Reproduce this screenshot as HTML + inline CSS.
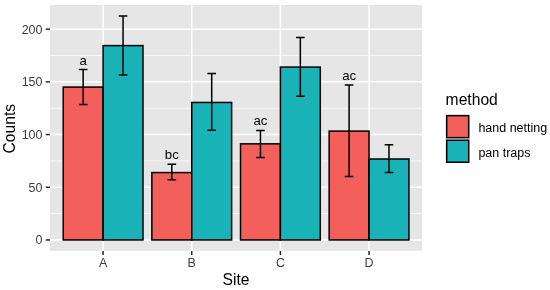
<!DOCTYPE html>
<html><head><meta charset="utf-8"><title>Counts by Site</title>
<style>
html,body{margin:0;padding:0;background:#fff;}
body{width:550px;height:290px;overflow:hidden;}
svg{display:block;font-family:"Liberation Sans",Arial,Helvetica,sans-serif;}
</style></head><body>
<svg width="550" height="290" viewBox="0 0 550 290">
<rect width="550" height="290" fill="#fff"/>
<rect x="49.9" y="5.0" width="372.25" height="245.90" fill="#E6E6E6"/>
<line x1="49.9" x2="422.15" y1="213.60" y2="213.60" stroke="#fff" stroke-width="0.74"/>
<line x1="49.9" x2="422.15" y1="160.91" y2="160.91" stroke="#fff" stroke-width="0.74"/>
<line x1="49.9" x2="422.15" y1="108.21" y2="108.21" stroke="#fff" stroke-width="0.74"/>
<line x1="49.9" x2="422.15" y1="55.52" y2="55.52" stroke="#fff" stroke-width="0.74"/>
<line x1="49.9" x2="422.15" y1="239.95" y2="239.95" stroke="#fff" stroke-width="1.5"/>
<line x1="49.9" x2="422.15" y1="187.25" y2="187.25" stroke="#fff" stroke-width="1.5"/>
<line x1="49.9" x2="422.15" y1="134.56" y2="134.56" stroke="#fff" stroke-width="1.5"/>
<line x1="49.9" x2="422.15" y1="81.86" y2="81.86" stroke="#fff" stroke-width="1.5"/>
<line x1="49.9" x2="422.15" y1="29.17" y2="29.17" stroke="#fff" stroke-width="1.5"/>
<line x1="103.10" x2="103.10" y1="5.0" y2="250.9" stroke="#fff" stroke-width="1.5"/>
<line x1="191.75" x2="191.75" y1="5.0" y2="250.9" stroke="#fff" stroke-width="1.5"/>
<line x1="280.40" x2="280.40" y1="5.0" y2="250.9" stroke="#fff" stroke-width="1.5"/>
<line x1="369.05" x2="369.05" y1="5.0" y2="250.9" stroke="#fff" stroke-width="1.5"/>
<rect x="63.21" y="87.08" width="39.89" height="152.87" fill="#F35F5B" stroke="#000" stroke-width="1.5" stroke-linejoin="miter"/>
<rect x="103.10" y="45.60" width="39.89" height="194.35" fill="#19B3B7" stroke="#000" stroke-width="1.5" stroke-linejoin="miter"/>
<rect x="151.86" y="172.58" width="39.89" height="67.37" fill="#F35F5B" stroke="#000" stroke-width="1.5" stroke-linejoin="miter"/>
<rect x="191.75" y="102.46" width="39.89" height="137.49" fill="#19B3B7" stroke="#000" stroke-width="1.5" stroke-linejoin="miter"/>
<rect x="240.51" y="143.84" width="39.89" height="96.11" fill="#F35F5B" stroke="#000" stroke-width="1.5" stroke-linejoin="miter"/>
<rect x="280.40" y="67.08" width="39.89" height="172.87" fill="#19B3B7" stroke="#000" stroke-width="1.5" stroke-linejoin="miter"/>
<rect x="329.16" y="131.10" width="39.89" height="108.85" fill="#F35F5B" stroke="#000" stroke-width="1.5" stroke-linejoin="miter"/>
<rect x="369.05" y="159.01" width="39.89" height="80.94" fill="#19B3B7" stroke="#000" stroke-width="1.5" stroke-linejoin="miter"/>
<path d="M78.85 69.61H87.45M83.15 69.61V104.46M78.85 104.46H87.45" fill="none" stroke="#000" stroke-width="1.5"/>
<text x="83.15" y="64.61" font-size="13.2" text-anchor="middle" fill="#000">a</text>
<path d="M118.75 16.11H127.35M123.05 16.11V75.08M118.75 75.08H127.35" fill="none" stroke="#000" stroke-width="1.5"/>
<path d="M167.50 164.37H176.10M171.80 164.37V179.75M167.50 179.75H176.10" fill="none" stroke="#000" stroke-width="1.5"/>
<text x="171.80" y="159.37" font-size="13.2" text-anchor="middle" fill="#000">bc</text>
<path d="M207.40 73.40H216.00M211.70 73.40V130.26M207.40 130.26H216.00" fill="none" stroke="#000" stroke-width="1.5"/>
<path d="M256.15 130.47H264.75M260.45 130.47V157.54M256.15 157.54H264.75" fill="none" stroke="#000" stroke-width="1.5"/>
<text x="260.45" y="125.47" font-size="13.2" text-anchor="middle" fill="#000">ac</text>
<path d="M296.05 37.49H304.65M300.35 37.49V96.15M296.05 96.15H304.65" fill="none" stroke="#000" stroke-width="1.5"/>
<path d="M344.80 85.09H353.40M349.10 85.09V176.59M344.80 176.59H353.40" fill="none" stroke="#000" stroke-width="1.5"/>
<text x="349.10" y="80.09" font-size="13.2" text-anchor="middle" fill="#000">ac</text>
<path d="M384.70 144.79H393.30M389.00 144.79V172.58M384.70 172.58H393.30" fill="none" stroke="#000" stroke-width="1.5"/>
<line x1="45.80" x2="49.9" y1="239.95" y2="239.95" stroke="#262626" stroke-width="1.5"/>
<text x="42.50" y="244.30" font-size="12.5" text-anchor="end" fill="#3D3D3D">0</text>
<line x1="45.80" x2="49.9" y1="187.25" y2="187.25" stroke="#262626" stroke-width="1.5"/>
<text x="42.50" y="191.60" font-size="12.5" text-anchor="end" fill="#3D3D3D">50</text>
<line x1="45.80" x2="49.9" y1="134.56" y2="134.56" stroke="#262626" stroke-width="1.5"/>
<text x="42.50" y="138.91" font-size="12.5" text-anchor="end" fill="#3D3D3D">100</text>
<line x1="45.80" x2="49.9" y1="81.86" y2="81.86" stroke="#262626" stroke-width="1.5"/>
<text x="42.50" y="86.21" font-size="12.5" text-anchor="end" fill="#3D3D3D">150</text>
<line x1="45.80" x2="49.9" y1="29.17" y2="29.17" stroke="#262626" stroke-width="1.5"/>
<text x="42.50" y="33.52" font-size="12.5" text-anchor="end" fill="#3D3D3D">200</text>
<line x1="103.10" x2="103.10" y1="250.9" y2="255.00" stroke="#262626" stroke-width="1.5"/>
<text x="103.10" y="266.8" font-size="12.5" text-anchor="middle" fill="#3D3D3D">A</text>
<line x1="191.75" x2="191.75" y1="250.9" y2="255.00" stroke="#262626" stroke-width="1.5"/>
<text x="191.75" y="266.8" font-size="12.5" text-anchor="middle" fill="#3D3D3D">B</text>
<line x1="280.40" x2="280.40" y1="250.9" y2="255.00" stroke="#262626" stroke-width="1.5"/>
<text x="280.40" y="266.8" font-size="12.5" text-anchor="middle" fill="#3D3D3D">C</text>
<line x1="369.05" x2="369.05" y1="250.9" y2="255.00" stroke="#262626" stroke-width="1.5"/>
<text x="369.05" y="266.8" font-size="12.5" text-anchor="middle" fill="#3D3D3D">D</text>
<text x="236.02" y="284.6" font-size="15.66" text-anchor="middle" fill="#000">Site</text>
<text transform="translate(14.6 128.65) rotate(-90)" font-size="15.66" text-anchor="middle" fill="#000">Counts</text>
<text x="445.6" y="104.6" font-size="15.66" fill="#000">method</text>
<rect x="445.35" y="114.35" width="24.6" height="24.6" fill="#F0F0F0"/>
<rect x="446.7" y="115.65" width="22" height="22" fill="#F35F5B" stroke="#000" stroke-width="1.5"/>
<text x="478.4" y="132.05" font-size="12.5" fill="#000">hand netting</text>
<rect x="445.35" y="138.95" width="24.6" height="24.6" fill="#F0F0F0"/>
<rect x="446.7" y="140.25" width="22" height="22" fill="#19B3B7" stroke="#000" stroke-width="1.5"/>
<text x="478.4" y="156.65" font-size="12.5" fill="#000">pan traps</text>
</svg>
</body></html>
